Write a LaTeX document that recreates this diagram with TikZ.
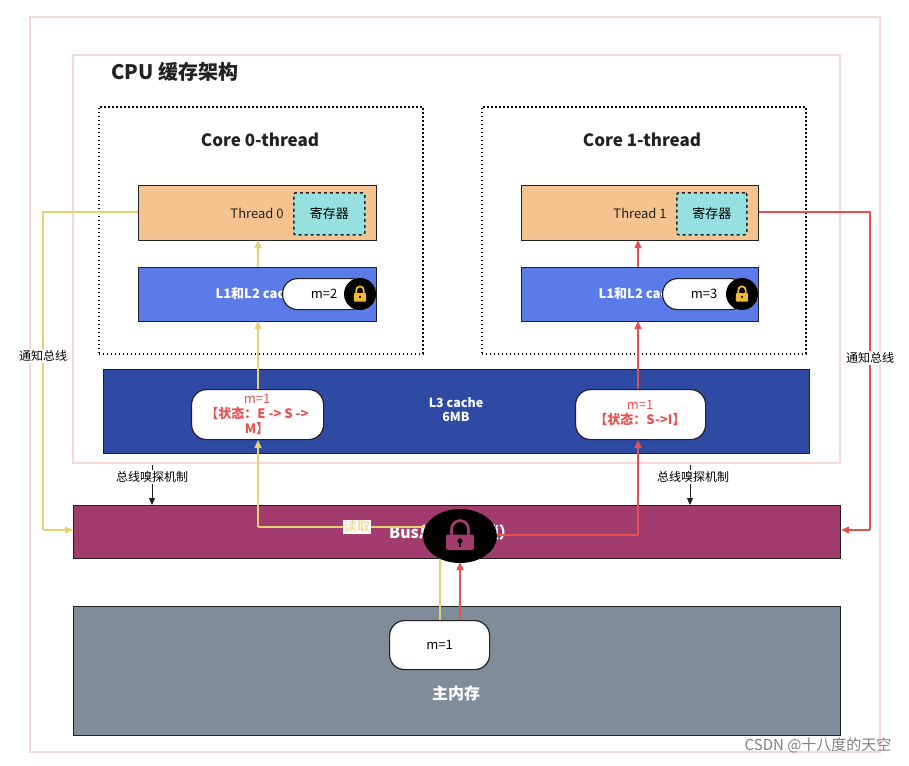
\documentclass[tikz,border=0pt]{standalone}
\usepackage{fontspec}
\setmainfont{Noto Sans CJK SC}
\usetikzlibrary{arrows.meta}
\definecolor{pinkb}{HTML}{F8D7D7}
\definecolor{orng}{HTML}{F5C38F}
\definecolor{cyanr}{HTML}{97E0E0}
\definecolor{lblue}{HTML}{5B7BE8}
\definecolor{dblue}{HTML}{2E4AA3}
\definecolor{busc}{HTML}{A23C6E}
\definecolor{memc}{HTML}{7F8C9A}
\definecolor{yl}{HTML}{E8D170}
\definecolor{rd}{HTML}{E85050}
\definecolor{edge}{HTML}{222222}
\definecolor{lockc}{HTML}{F0B73A}
\tikzset{
 box/.style={draw=edge,line width=1.2pt},
 pill/.style={draw=edge,line width=1.2pt,fill=white,rounded corners=15pt},
 ya/.style={draw=yl,line width=1.3pt,-{Triangle[length=8pt,width=7pt]}},
 ra/.style={draw=rd,line width=1.3pt,-{Triangle[length=8pt,width=7pt]}},
 yl/.style={draw=yl,line width=1.3pt},
 rl/.style={draw=rd,line width=1.3pt},
 lbl/.style={font=\fontsize{12}{14}\selectfont,fill=white,inner sep=1pt},
 core/.style={draw,line width=1.6pt,dash pattern=on 1.6pt off 2.4pt,minimum width=324pt,minimum height=247pt,anchor=north west}
}
\newcommand{\mylock}[3]{% x y scale
 \begin{scope}[shift={(#1,#2)},scale=#3]
 \draw[lockc,line width=1.8pt] (-4,-1) -- (-4,-4) arc(180:360:4) -- (4,-1);
 \fill[lockc,rounded corners=1pt] (-6.5,-1) rectangle (6.5,8);
 \fill[black] (0,3) circle (1.3);
 \end{scope}}
\begin{document}
\begin{tikzpicture}[x=1pt,y=-1pt]
\useasboundingbox (0,0) rectangle (909,765);
\fill[white] (0,0) rectangle (909,765);
\draw[pinkb,line width=1.3pt] (30,17) rectangle (880,752);
\draw[pinkb,line width=1.3pt] (73,55) rectangle (840,463);
\node[font=\fontsize{20}{24}\selectfont\bfseries,text=edge,anchor=west] (title) at (108,72) {CPU 缓存架构};
% cores
\node[core] (c0) at (98,106) {};
\node[core] (c1) at (481,106) {};
\node[font=\fontsize{17}{20}\selectfont\bfseries,text=edge] (c0t) at (260,140) {Core 0-thread};
\node[font=\fontsize{17}{20}\selectfont\bfseries,text=edge] (c1t) at (642,140) {Core 1-thread};
% threads
\node[box,fill=orng,minimum width=238pt,minimum height=55pt,anchor=north west] (t0) at (138,185) {};
\node[box,fill=orng,minimum width=237pt,minimum height=55pt,anchor=north west] (t1) at (521,185) {};
\node[font=\fontsize{13}{15}\selectfont,text=edge] (t0l) at (257,213) {Thread 0};
\node[font=\fontsize{13}{15}\selectfont,text=edge] (t1l) at (640,213) {Thread 1};
\node[draw=edge,dashed,line width=1.5pt,fill=cyanr,rounded corners=2pt,minimum width=71pt,minimum height=42pt,anchor=north west,font=\fontsize{13}{15}\selectfont] (r0) at (293,192) {寄存器};
\node[draw=edge,dashed,line width=1.5pt,fill=cyanr,rounded corners=2pt,minimum width=70pt,minimum height=42pt,anchor=north west,font=\fontsize{13}{15}\selectfont] (r1) at (676,192) {寄存器};
% L1
\node[box,fill=lblue,minimum width=238pt,minimum height=54pt,anchor=north west] (l0) at (138,267) {};
\node[box,fill=lblue,minimum width=237pt,minimum height=54pt,anchor=north west] (l1) at (521,267) {};
\node[font=\fontsize{13}{15}\selectfont\bfseries,text=white,anchor=west] (l0t) at (212,294) {L1和L2 cache};
\node[font=\fontsize{13}{15}\selectfont\bfseries,text=white,anchor=west] (l1t) at (595,294) {L1和L2 cache};
\node[pill,minimum width=83pt,minimum height=31pt,anchor=north west,font=\fontsize{13}{15}\selectfont] (p0) at (282,278) {m=2\hspace{14pt}};
\node[pill,minimum width=83pt,minimum height=31pt,anchor=north west,font=\fontsize{13}{15}\selectfont] (p1) at (662,278) {m=3\hspace{14pt}};
\fill[black] (360,294) circle (16);
\fill[black] (742,294) circle (16);
\mylock{360}{294}{0.95}
\mylock{742}{294}{0.95}
% L3
\node[box,fill=dblue,minimum width=706pt,minimum height=84pt,anchor=north west] (l3) at (103,369) {};
\node[font=\fontsize{12.5}{14}\selectfont\bfseries,text=white,align=center] (l3t) at (456,410) {L3 cache\\6MB};
\node[pill,minimum width=132pt,minimum height=50pt,anchor=north west] (q0) at (191,389) {};
\node[text=rd,align=center,font=\fontsize{13}{15}\selectfont] (q0t) at (257,414) {m=1\\\textbf{【状态：E -> S ->}\\\textbf{M】}};
\node[pill,minimum width=130pt,minimum height=50pt,anchor=north west] (q1) at (575,389) {};
\node[text=rd,align=center,font=\fontsize{13}{15}\selectfont] (q1t) at (640,413) {m=1\\\textbf{【状态：S->I】}};
% bus
\node[box,fill=busc,minimum width=767pt,minimum height=53pt,anchor=north west] (bus) at (73,505) {};
\node[font=\fontsize{16}{18}\selectfont\bfseries,text=white] (bust) at (452,532) {Bus总线（上锁）};
% memory
\node[box,fill=memc,minimum width=767pt,minimum height=129pt,anchor=north west] (mem) at (73,606) {};
\node[font=\fontsize{16}{18}\selectfont\bfseries,text=white] (memt) at (456,693) {主内存};
\node[pill,minimum width=100pt,minimum height=49pt,anchor=north west,font=\fontsize{13}{15}\selectfont] (mm) at (389,620) {m=1};
% coordinates
\coordinate (ya1) at (440,620); \coordinate (ya2) at (440,527); \coordinate (ya3) at (258,527);
\coordinate (ra1) at (460,620);
\coordinate (rb1) at (490,535); \coordinate (rb2) at (638,535);
% yellow path
\draw[yl] (ya1) -- (ya2) -- (ya3);
\draw[ya] (ya3) -- (258,440);
\draw[ya] (258,389) -- (258,321);
\draw[ya] (258,267) -- (258,240);
% red path
\draw[rl] (rb1) -- (rb2);
\draw[ra] (rb2) -- (638,440);
\draw[ra] (638,389) -- (638,321);
\draw[ra] (638,267) -- (638,240);
% notify lines
\coordinate (n0a) at (43,212); \coordinate (n0b) at (43,530);
\draw[yl] (t0.west |- 0,212) -- (n0a) -- (n0b);
\draw[ya] (n0b) -- (bus.west |- 0,530);
\coordinate (n1a) at (870,212); \coordinate (n1b) at (870,530);
\draw[rl] (t1.east |- 0,212) -- (n1a) -- (n1b);
\draw[ra] (n1b) -- (bus.east |- 0,530);
\node[lbl] (nt0) at (43,356) {通知总线};
\node[lbl] (nt1) at (870,358) {通知总线};
% snoop
\coordinate (s0) at (152,465); \coordinate (s1) at (690,465);
\draw[edge,line width=1pt,-{Triangle[length=7pt,width=6pt]}] (s0) -- (152,505);
\draw[edge,line width=1pt,-{Triangle[length=7pt,width=6pt]}] (s1) -- (690,505);
\node[lbl] (sn0) at (152,477) {总线嗅探机制};
\node[lbl] (sn1) at (693,477) {总线嗅探机制};
\node[fill=white,text=yl,inner sep=1pt,font=\fontsize{13}{15}\selectfont] (rd) at (357,527) {读取};
% lock on bus
\fill[black] (460,536) ellipse (37 and 27);
\draw[ra] (ra1) -- (460,562);
\begin{scope}[shift={(460,536)},scale=1.4]
 \draw[busc,line width=2.8pt] (-6,-1) -- (-6,-5) arc(180:360:6) -- (6,-1);
 \fill[busc,rounded corners=2pt] (-10,-1) rectangle (10,10);
 \fill[black] (0,3.5) circle (1.8);
 \fill[black] (-0.7,4) rectangle (0.7,8);
\end{scope}
\node[text=gray,font=\fontsize{15}{17}\selectfont,anchor=east] (wm) at (895,745) {CSDN @十八度的天空};
\end{tikzpicture}
\end{document}
